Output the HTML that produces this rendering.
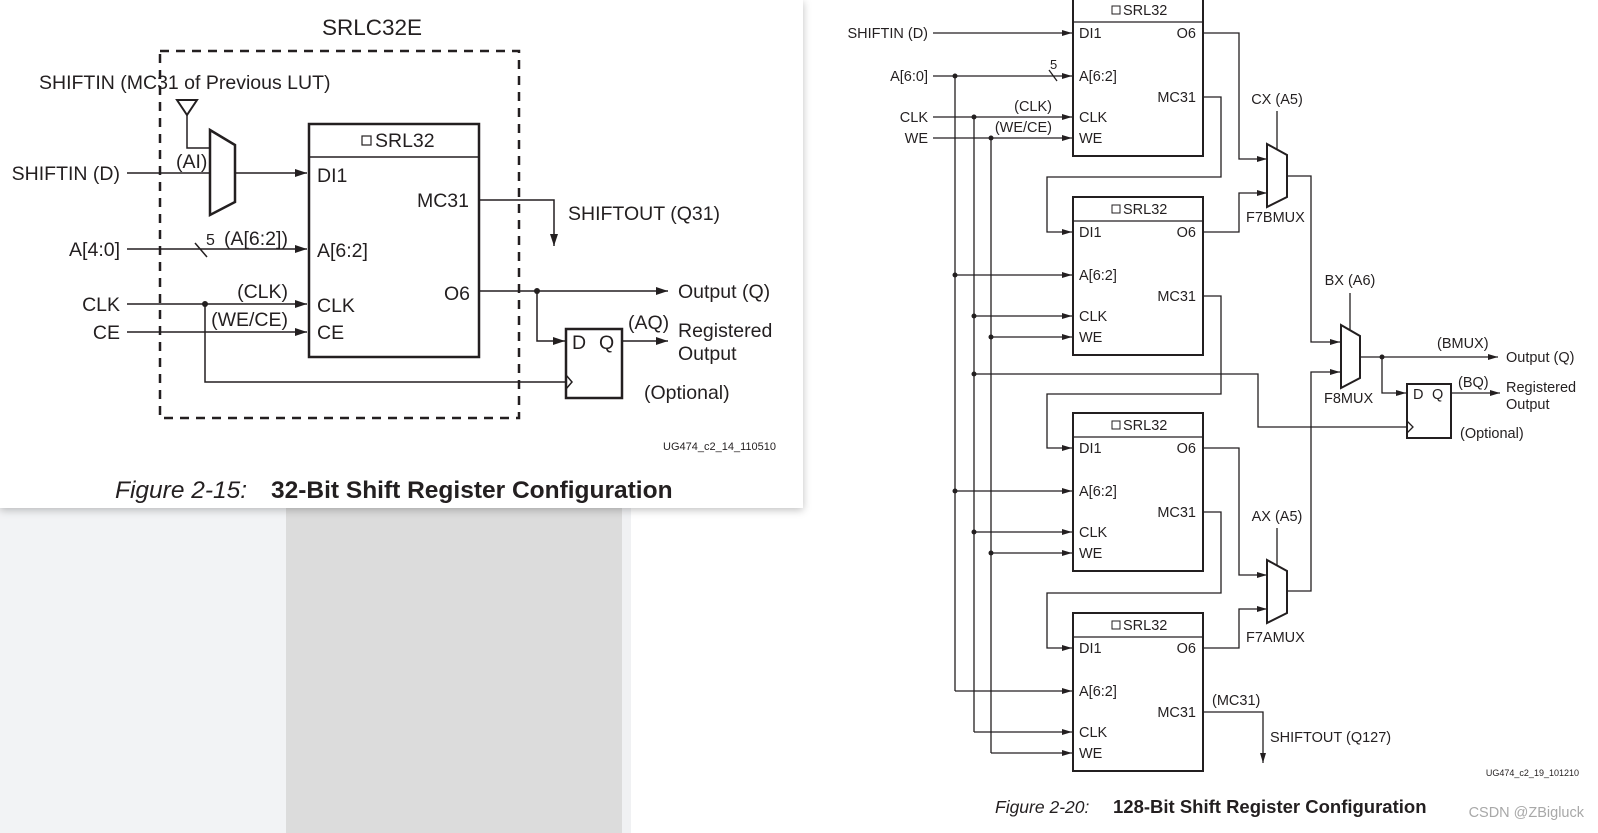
<!DOCTYPE html>
<html><head><meta charset="utf-8"><style>
html,body{margin:0;padding:0;width:1598px;height:833px;overflow:hidden;background:#fff;font-family:"Liberation Sans",Arial,sans-serif}
.bg1{position:absolute;left:0;top:0;width:286px;height:833px;background:#f2f3f5}
.bg2{position:absolute;left:286px;top:0;width:336px;height:833px;background:#dcdcdc}
.bg3{position:absolute;left:622px;top:0;width:9px;height:833px;background:#f0f1f3}
.card{position:absolute;left:0;top:0;width:803px;height:508px;background:#fff;box-shadow:0 2px 8px rgba(0,0,0,0.25)}
svg{position:absolute;left:0;top:0}
text{font-family:"Liberation Sans",Arial,sans-serif;fill:#231f20}
</style></head><body>
<div class="bg1"></div><div class="bg2"></div><div class="bg3"></div><div class="card"></div>
<svg width="1598" height="833" viewBox="0 0 1598 833">
<defs>
<marker id="a" markerUnits="userSpaceOnUse" markerWidth="12" markerHeight="10" refX="12" refY="5" orient="auto"><path d="M0,1 L12,5 L0,9 z" fill="#231f20"/></marker>
<marker id="s" markerUnits="userSpaceOnUse" markerWidth="10" markerHeight="8" refX="10" refY="4" orient="auto"><path d="M0,1 L10,4 L0,7 z" fill="#231f20"/></marker>
</defs>

<!-- ===== LEFT FIGURE ===== -->
<g stroke="#231f20" fill="none">
<rect x="160" y="51" width="359" height="367" stroke-width="2.5" stroke-dasharray="9,7"/>
<rect x="309" y="124" width="170" height="233" stroke-width="2.5"/>
<line x1="309" y1="157" x2="479" y2="157" stroke-width="1.5"/>
<polygon points="210,130 235,145 235,202 210,215" stroke-width="2.5"/>
<polygon points="177,100 197,100 187,115" stroke-width="2"/>
<polyline points="187,115 187,148 210,148" stroke-width="1.5"/>
<line x1="127" y1="173" x2="210" y2="173" stroke-width="1.5"/>
<line x1="235" y1="173" x2="307" y2="173" stroke-width="1.5" marker-end="url(#a)"/>
<line x1="127" y1="249" x2="307" y2="249" stroke-width="1.5" marker-end="url(#a)"/>
<line x1="195" y1="243" x2="207" y2="257" stroke-width="1.5"/>
<line x1="127" y1="304" x2="307" y2="304" stroke-width="1.5" marker-end="url(#a)"/>
<line x1="127" y1="332" x2="307" y2="332" stroke-width="1.5" marker-end="url(#a)"/>
<polyline points="205,304 205,382 566,382" stroke-width="1.5"/>
<polyline points="479,200 554,200 554,246" stroke-width="1.5" marker-end="url(#a)"/>
<line x1="479" y1="291" x2="668" y2="291" stroke-width="1.5" marker-end="url(#a)"/>
<polyline points="537,291 537,341 565,341" stroke-width="1.5" marker-end="url(#a)"/>
<rect x="566" y="329" width="56" height="69" stroke-width="2.5"/>
<polyline points="566,375 572,382 566,389" stroke-width="1.5"/>
<line x1="622" y1="341" x2="668" y2="341" stroke-width="1.5" marker-end="url(#a)"/>
</g>
<circle cx="205" cy="304" r="3" fill="#231f20"/>
<circle cx="537" cy="291" r="3" fill="#231f20"/>
<g font-size="19.5">
<text x="372" y="35" font-size="22.5" text-anchor="middle">SRLC32E</text>
<text x="39" y="89">SHIFTIN (MC31 of Previous LUT)</text>
<text x="120" y="180" text-anchor="end">SHIFTIN (D)</text>
<text x="176" y="168">(AI)</text>
<text x="120" y="256" text-anchor="end">A[4:0]</text>
<text x="206" y="245" font-size="16">5</text>
<text x="224" y="245">(A[6:2])</text>
<text x="120" y="311" text-anchor="end">CLK</text>
<text x="120" y="339" text-anchor="end">CE</text>
<text x="288" y="298" text-anchor="end">(CLK)</text>
<text x="288" y="326" text-anchor="end">(WE/CE)</text>
<rect x="362" y="136" width="9" height="9" fill="none" stroke="#231f20" stroke-width="1.2"/>
<text x="375" y="147">SRL32</text>
<text x="317" y="182">DI1</text>
<text x="317" y="257">A[6:2]</text>
<text x="317" y="312">CLK</text>
<text x="317" y="339">CE</text>
<text x="469" y="207" text-anchor="end">MC31</text>
<text x="470" y="300" text-anchor="end">O6</text>
<text x="568" y="220">SHIFTOUT (Q31)</text>
<text x="678" y="298">Output (Q)</text>
<text x="572" y="349">D</text>
<text x="599" y="349">Q</text>
<text x="628" y="329">(AQ)</text>
<text x="678" y="337">Registered</text>
<text x="678" y="360">Output</text>
<text x="644" y="399">(Optional)</text>
<text x="776" y="450" font-size="11" text-anchor="end">UG474_c2_14_110510</text>
<text x="115" y="498" font-size="24.5" font-style="italic">Figure 2-15:</text>
<text x="271" y="498" font-size="24.5" font-weight="bold">32-Bit Shift Register Configuration</text>
</g>

<!-- ===== RIGHT FIGURE ===== -->
<g stroke="#231f20" fill="none" stroke-width="1.3">
<g stroke-width="2">
<rect x="1073" y="-2" width="130" height="158"/>
<rect x="1073" y="197" width="130" height="158"/>
<rect x="1073" y="413" width="130" height="158"/>
<rect x="1073" y="613" width="130" height="158"/>
</g>
<line x1="1073" y1="22" x2="1203" y2="22"/>
<line x1="1073" y1="221" x2="1203" y2="221"/>
<line x1="1073" y1="437" x2="1203" y2="437"/>
<line x1="1073" y1="637" x2="1203" y2="637"/>
<line x1="955" y1="76" x2="955" y2="691"/>
<line x1="974" y1="117" x2="974" y2="732"/>
<line x1="991" y1="138" x2="991" y2="753"/>
<line x1="933" y1="33" x2="1072" y2="33" marker-end="url(#s)"/>
<line x1="933" y1="76" x2="1072" y2="76" marker-end="url(#s)"/>
<line x1="1049" y1="70" x2="1057" y2="81"/>
<line x1="933" y1="117" x2="1072" y2="117" marker-end="url(#s)"/>
<line x1="933" y1="138" x2="1072" y2="138" marker-end="url(#s)"/>
<line x1="955" y1="275" x2="1072" y2="275" marker-end="url(#s)"/>
<line x1="974" y1="316" x2="1072" y2="316" marker-end="url(#s)"/>
<line x1="991" y1="337" x2="1072" y2="337" marker-end="url(#s)"/>
<line x1="955" y1="491" x2="1072" y2="491" marker-end="url(#s)"/>
<line x1="974" y1="532" x2="1072" y2="532" marker-end="url(#s)"/>
<line x1="991" y1="553" x2="1072" y2="553" marker-end="url(#s)"/>
<line x1="955" y1="691" x2="1072" y2="691" marker-end="url(#s)"/>
<line x1="974" y1="732" x2="1072" y2="732" marker-end="url(#s)"/>
<line x1="991" y1="753" x2="1072" y2="753" marker-end="url(#s)"/>
<polyline points="1203,97 1221,97 1221,177 1047,177 1047,232 1072,232" marker-end="url(#s)"/>
<polyline points="1203,296 1221,296 1221,394 1047,394 1047,448 1072,448" marker-end="url(#s)"/>
<polyline points="1203,512 1221,512 1221,593 1047,593 1047,648 1072,648" marker-end="url(#s)"/>
<polyline points="1203,712 1263,712 1263,763" marker-end="url(#s)"/>
<polyline points="1203,33 1239,33 1239,159 1267,159" marker-end="url(#s)"/>
<polyline points="1203,232 1239,232 1239,193 1267,193" marker-end="url(#s)"/>
<polyline points="1203,448 1239,448 1239,575 1267,575" marker-end="url(#s)"/>
<polyline points="1203,648 1239,648 1239,609 1267,609" marker-end="url(#s)"/>
<polygon points="1267,144 1287,155 1287,197 1267,207" stroke-width="2"/>
<polygon points="1267,560 1287,571 1287,613 1267,623" stroke-width="2"/>
<polygon points="1341,325 1360,336 1360,378 1341,388" stroke-width="2"/>
<line x1="1277" y1="111" x2="1277" y2="149"/>
<line x1="1277" y1="528" x2="1277" y2="565"/>
<line x1="1350" y1="293" x2="1350" y2="330"/>
<polyline points="1287,176 1311,176 1311,342 1340,342" marker-end="url(#s)"/>
<polyline points="1287,591 1311,591 1311,372 1340,372" marker-end="url(#s)"/>
<line x1="1360" y1="357" x2="1498" y2="357" marker-end="url(#s)"/>
<polyline points="1382,357 1382,393 1406,393" marker-end="url(#s)"/>
<rect x="1407" y="384" width="44" height="54" stroke-width="2"/>
<polyline points="974,374 1258,374 1258,427 1407,427"/>
<polyline points="1407,421 1413,427 1407,433"/>
<line x1="1451" y1="393" x2="1500" y2="393" marker-end="url(#s)"/>
</g>
<g fill="#231f20">
<circle cx="955" cy="76" r="2.5"/><circle cx="974" cy="117" r="2.5"/><circle cx="991" cy="138" r="2.5"/>
<circle cx="955" cy="275" r="2.5"/><circle cx="974" cy="316" r="2.5"/><circle cx="991" cy="337" r="2.5"/>
<circle cx="974" cy="374" r="2.5"/>
<circle cx="955" cy="491" r="2.5"/><circle cx="974" cy="532" r="2.5"/><circle cx="991" cy="553" r="2.5"/>
<circle cx="1382" cy="357" r="2.5"/>
</g>
<g font-size="14.5">
<text x="928" y="38" text-anchor="end">SHIFTIN (D)</text>
<text x="928" y="81" text-anchor="end">A[6:0]</text>
<text x="928" y="122" text-anchor="end">CLK</text>
<text x="928" y="143" text-anchor="end">WE</text>
<text x="1050" y="69" font-size="13">5</text>
<text x="1052" y="111" text-anchor="end">(CLK)</text>
<text x="1052" y="132" text-anchor="end">(WE/CE)</text>
<g id="lbl">
<rect x="1112" y="6" width="8" height="8" fill="none" stroke="#231f20" stroke-width="1"/>
<text x="1123" y="15">SRL32</text>
<text x="1079" y="38">DI1</text>
<text x="1196" y="38" text-anchor="end">O6</text>
<text x="1079" y="81">A[6:2]</text>
<text x="1196" y="102" text-anchor="end">MC31</text>
<text x="1079" y="122">CLK</text>
<text x="1079" y="143">WE</text>
</g>
<use href="#lbl" y="199"/>
<use href="#lbl" y="415"/>
<use href="#lbl" y="615"/>
<text x="1277" y="104" text-anchor="middle">CX (A5)</text>
<text x="1246" y="222">F7BMUX</text>
<text x="1350" y="285" text-anchor="middle">BX (A6)</text>
<text x="1324" y="403">F8MUX</text>
<text x="1277" y="521" text-anchor="middle">AX (A5)</text>
<text x="1246" y="642">F7AMUX</text>
<text x="1437" y="348">(BMUX)</text>
<text x="1506" y="362">Output (Q)</text>
<text x="1413" y="399">D</text>
<text x="1432" y="399">Q</text>
<text x="1458" y="387">(BQ)</text>
<text x="1506" y="392">Registered</text>
<text x="1506" y="409">Output</text>
<text x="1460" y="438">(Optional)</text>
<text x="1212" y="705">(MC31)</text>
<text x="1270" y="742">SHIFTOUT (Q127)</text>
<text x="1579" y="776" font-size="9" text-anchor="end">UG474_c2_19_101210</text>
<text x="995" y="813" font-size="17.5" font-style="italic">Figure 2-20:</text>
<text x="1113" y="813" font-size="18.5" font-weight="bold">128-Bit Shift Register Configuration</text>
<text x="1584" y="817" font-size="14.5" text-anchor="end" style="fill:#a8a8a8">CSDN @ZBigluck</text>
</g>
</svg>
</body></html>
